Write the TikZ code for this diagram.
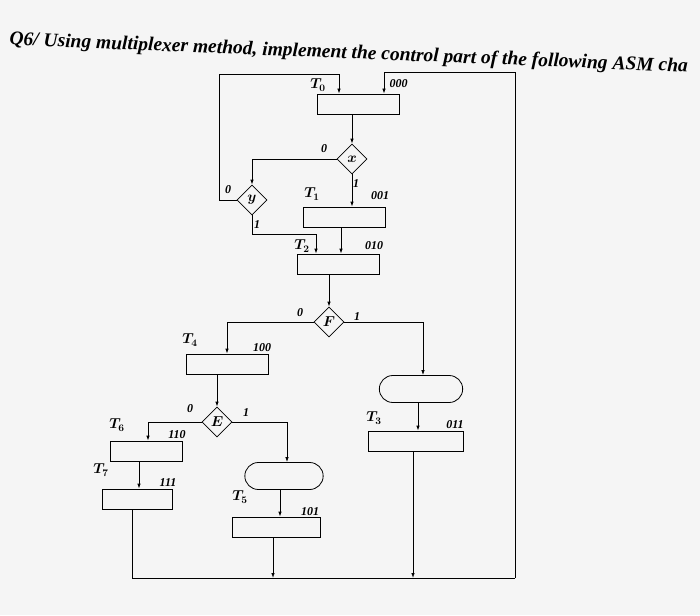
\documentclass[tikz,border=0pt]{standalone}
\usepackage{fontspec}
\setmainfont{Liberation Serif}
\usetikzlibrary{shapes.geometric,shapes.misc,arrows.meta}
\begin{document}
\begin{tikzpicture}[x=1pt,y=-1pt,
  stbox/.style={draw,thick,rectangle,minimum width=#1,minimum height=20pt,inner sep=0pt},
  stbox/.default=82pt,
  dec/.style={draw,thick,diamond,aspect=1,inner sep=1pt,minimum size=30pt,font=\boldmath\fontsize{14}{16}\selectfont},
  ovl/.style={draw,thick,rounded rectangle,minimum width=#1,minimum height=27pt},
  ovl/.default=90pt,
  lab/.style={font=\bfseries\itshape\fontsize{12}{14}\selectfont},
  tl/.style={font=\boldmath\fontsize{14}{16}\selectfont},
  ln/.style={thick},
  ar/.style={thick,-{Latex[length=5pt,width=3.5pt]}}]
\useasboundingbox (0,0) rectangle (700,615);
\fill[gray!8] (0,0) rectangle (700,615);
\node[rotate=-2.3,font=\bfseries\itshape\fontsize{19.5}{22}\selectfont,anchor=west] (title) at (6,40) {Q6/ Using multiplexer method, implement the control part of the following ASM cha};
% nodes
\node[stbox] (t0) at (358,104) {};
\node[dec] (x) at (352,159) {$x$};
\node[dec] (y) at (252,200) {$y$};
\node[stbox] (t1) at (344,217) {};
\node[stbox] (t2) at (338,264) {};
\node[dec] (f) at (329,322) {$F$};
\node[stbox] (t4) at (227,364) {};
\node[ovl] (o3) at (421,389) {};
\node[stbox=95pt] (t3) at (416,441) {};
\node[dec] (e) at (217,422) {$E$};
\node[stbox=72pt] (t6) at (146,451) {};
\node[stbox=70pt] (t7) at (137,499) {};
\node[ovl=85pt] (o5) at (284,476) {};
\node[stbox=88pt] (t5) at (276,527) {};
\coordinate (bl) at (132,578);
\coordinate (br) at (515,578);
% labels
\node[tl] at (318,85) {$T_0$};
\node[lab,anchor=west] at (386,84) {000};
\node[tl] at (312,194) {$T_1$};
\node[lab] at (380,196) {001};
\node[tl] at (302,246) {$T_2$};
\node[lab] at (374,246) {010};
\node[tl] at (190,340) {$T_4$};
\node[lab] at (262,348) {100};
\node[tl] at (374,418) {$T_3$};
\node[lab] at (455,425) {011};
\node[tl] at (117,425) {$T_6$};
\node[lab] at (177,435) {110};
\node[tl] at (101,470) {$T_7$};
\node[lab] at (168,483) {111};
\node[tl] at (240,497) {$T_5$};
\node[lab] at (310,512) {101};
\node[lab] at (324,149) {0};
\node[lab] at (356,184) {1};
\node[lab] at (228,190) {0};
\node[lab] at (257,225) {1};
\node[lab] at (300,313) {0};
\node[lab] at (357,317) {1};
\node[lab] at (190,409) {0};
\node[lab] at (246,413) {1};
% connectors
\draw[ar] (y.west) -- (219,200) -- (219,74) -- (339,74) -- (t0.north -| 339,0);
\draw[ar] (br) -- (515,72) -- (384,72) -- (t0.north -| 384,0);
\draw[ar] (t0.south -| x) -- (x.north);
\draw[ar] (x.west) -| (y.north);
\draw[ar] (x.south) -- (t1.north -| x);
\draw[ar] (y.south) -- (252,234) -- (316,234) -- (t2.north -| 316,0);
\draw[ar] (t1.south -| 341,0) -- (t2.north -| 341,0);
\draw[ar] (t2.south -| f) -- (f.north);
\draw[ar] (f.west) -| (t4.north);
\draw[ar] (f.east) -| (o3.north -| 423,0);
\draw[ar] (o3.south -| 418,0) -- (t3.north -| 418,0);
\draw[ar] (t3.south -| 413,0) -- (413,578);
\draw[ar] (t4.south -| e) -- (e.north);
\draw[ar] (e.west) -| (t6.north -| 148,0);
\draw[ar] (e.east) -| (o5.north -| 287,0);
\draw[ar] (o5.south -| 280,0) -- (t5.north -| 280,0);
\draw[ar] (t6.south -| 139,0) -- (t7.north -| 139,0);
\draw[ln] (t7.south -| 132,0) -- (bl) -- (br);
\draw[ar] (t5.south -| 273,0) -- (273,578);
\end{tikzpicture}
\end{document}
